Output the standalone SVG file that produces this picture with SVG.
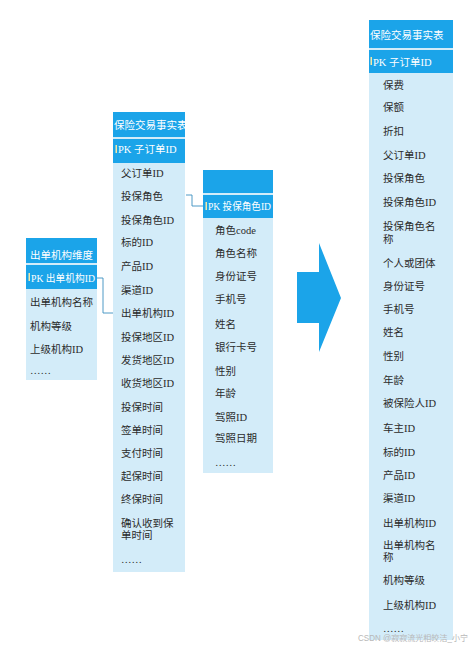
<svg xmlns="http://www.w3.org/2000/svg" width="474" height="653" viewBox="0 0 474 653">
<style>
.body{fill:#d3ecf9}
.dark{fill:#1ba4e9}
.t{font-family:"Liberation Serif","Noto Sans CJK SC",serif;font-size:10.5px;fill:#2b2b2b}
.h{font-family:"Liberation Serif","Noto Sans CJK SC",serif;font-size:10.5px;fill:#ffffff}
.key{fill:#f3e7a6}
.conn{fill:none;stroke:#3a8fc0;stroke-width:0.9}
.wm{font-family:"Liberation Sans","Noto Sans CJK SC",sans-serif;font-size:8.5px;fill:#b8b8b8}
</style>
<rect width="474" height="653" fill="#ffffff"/>

<g id="connectors">
<polyline class="conn" points="97,278 103,278 103,313 113,313"/>
<polyline class="conn" points="186,195 192,195 192,206 203,206"/>
</g>

<g id="org-dim">
<rect class="body" x="26" y="238" width="71" height="142"/>
<rect class="dark" x="26" y="238" width="71" height="25"/>
<rect class="dark" x="26" y="265" width="71" height="24"/>
<text class="h" x="30" y="259">出单机构维度</text>
<rect class="key" x="28.5" y="273" width="1.5" height="8"/>
<text class="h" x="31" y="282" textLength="64" lengthAdjust="spacingAndGlyphs">PK 出单机构ID</text>
<text class="t" x="30" y="306">出单机构名称</text>
<text class="t" x="30" y="330">机构等级</text>
<text class="t" x="30" y="353">上级机构ID</text>
<text class="t" x="30" y="374">……</text>
</g>

<g id="fact-table">
<rect class="body" x="113" y="112" width="72" height="460"/>
<rect class="dark" x="113" y="112" width="72" height="25"/>
<rect class="dark" x="113" y="139" width="72" height="24"/>
<text class="h" x="114" y="129">保险交易事实表</text>
<rect class="key" x="115.5" y="145" width="1.5" height="8"/>
<text class="h" x="118" y="153">PK 子订单ID</text>
<text class="t" x="121" y="177">父订单ID</text>
<text class="t" x="121" y="200">投保角色</text>
<text class="t" x="121" y="224">投保角色ID</text>
<text class="t" x="121" y="246">标的ID</text>
<text class="t" x="121" y="270">产品ID</text>
<text class="t" x="121" y="294">渠道ID</text>
<text class="t" x="121" y="317">出单机构ID</text>
<text class="t" x="121" y="341">投保地区ID</text>
<text class="t" x="121" y="364">发货地区ID</text>
<text class="t" x="121" y="387">收货地区ID</text>
<text class="t" x="121" y="411">投保时间</text>
<text class="t" x="121" y="434">签单时间</text>
<text class="t" x="121" y="457">支付时间</text>
<text class="t" x="121" y="480">起保时间</text>
<text class="t" x="121" y="503">终保时间</text>
<text class="t" x="121" y="527">确认收到保</text>
<text class="t" x="121" y="539">单时间</text>
<text class="t" x="121" y="563">……</text>
</g>

<g id="role-dim">
<rect class="body" x="203" y="170" width="70" height="303"/>
<rect class="dark" x="203" y="170" width="70" height="23"/>
<rect class="dark" x="203" y="195" width="70" height="23"/>
<rect class="key" x="205.5" y="202" width="1.5" height="8"/>
<text class="h" x="208" y="210" textLength="63" lengthAdjust="spacingAndGlyphs">PK 投保角色ID</text>
<text class="t" x="215" y="234">角色code</text>
<text class="t" x="215" y="257">角色名称</text>
<text class="t" x="215" y="280">身份证号</text>
<text class="t" x="215" y="303">手机号</text>
<text class="t" x="215" y="328">姓名</text>
<text class="t" x="215" y="351">银行卡号</text>
<text class="t" x="215" y="375">性别</text>
<text class="t" x="215" y="397">年龄</text>
<text class="t" x="215" y="421">驾照ID</text>
<text class="t" x="215" y="442">驾照日期</text>
<text class="t" x="215" y="466">……</text>
</g>

<g id="arrow">
<polygon class="dark" points="297,272 319,272 319,243 341,298 319,352 319,323 297,323"/>
</g>

<g id="wide-fact-table">
<rect class="body" x="369" y="20" width="84" height="620"/>
<rect class="dark" x="369" y="20" width="84" height="28"/>
<rect class="dark" x="369" y="50" width="84" height="23"/>
<text class="h" x="370" y="39">保险交易事实表</text>
<rect class="key" x="370.5" y="57" width="1.5" height="8"/>
<text class="h" x="373" y="66">PK 子订单ID</text>
<text class="t" x="383" y="89">保费</text>
<text class="t" x="383" y="111">保额</text>
<text class="t" x="383" y="135">折扣</text>
<text class="t" x="383" y="159">父订单ID</text>
<text class="t" x="383" y="182">投保角色</text>
<text class="t" x="383" y="206">投保角色ID</text>
<text class="t" x="383" y="230">投保角色名</text>
<text class="t" x="383" y="243">称</text>
<text class="t" x="383" y="267">个人或团体</text>
<text class="t" x="383" y="290">身份证号</text>
<text class="t" x="383" y="313">手机号</text>
<text class="t" x="383" y="336">姓名</text>
<text class="t" x="383" y="360">性别</text>
<text class="t" x="383" y="384">年龄</text>
<text class="t" x="383" y="407">被保险人ID</text>
<text class="t" x="383" y="432">车主ID</text>
<text class="t" x="383" y="456">标的ID</text>
<text class="t" x="383" y="479">产品ID</text>
<text class="t" x="383" y="502">渠道ID</text>
<text class="t" x="383" y="527">出单机构ID</text>
<text class="t" x="383" y="549">出单机构名</text>
<text class="t" x="383" y="561">称</text>
<text class="t" x="383" y="584">机构等级</text>
<text class="t" x="383" y="609">上级机构ID</text>
<text class="t" x="383" y="632">……</text>
</g>

<text class="wm" x="358" y="641" textLength="110" lengthAdjust="spacingAndGlyphs">CSDN @寂寂流光相皎洁_小宁</text>
</svg>
